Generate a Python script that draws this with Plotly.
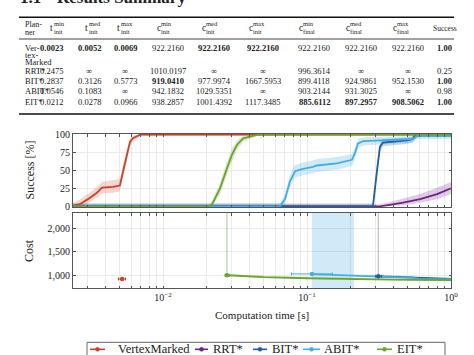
import plotly.graph_objects as go

W, H = 474, 355
ML, MR, MT, MB = 73, 23, 134, 67
PW = W - ML - MR
PH = H - MT - MB
FONT = "Liberation Serif"


def px(x):
    return (x - ML) / PW


def py(y):
    return (H - MB - y) / PH


# ---------------- data ----------------
PLANNERS = ["VertexMarked", "RRT*", "BIT*", "ABIT*", "EIT*"]
COLORS = ["#C8432B", "#6E2484", "#1F5DA6", "#45ADE3", "#6CA42C"]
BAND_COLORS = ["rgba(216,92,70,0.25)", "rgba(140,70,165,0.28)", "rgba(31,93,166,0.25)",
               "rgba(69,173,227,0.25)", "rgba(108,164,44,0.25)"]

# success rate [%] over computation time [s]
VM_T = [0.00237, 0.00265, 0.00301, 0.00348, 0.00377, 0.00408, 0.00450, 0.00502, 0.00527, 0.00562, 0.00590, 0.00619, 0.00692, 1.0]
VM_S = [1, 3, 10, 19, 26, 26, 27, 29, 49, 72, 90, 95, 100, 100]
VM_LO = [0, 0, 4, 12, 18, 18, 19, 21, 40, 63, 84, 90, 98, 100]
VM_HI = [5, 9, 17, 27, 34, 35, 36, 38, 58, 80, 95, 99, 100, 100]

RRT_T = [0.00237, 0.321, 0.377, 0.465, 0.610, 0.800, 1.0]
RRT_S = [0, 0, 2, 5, 10, 17, 25]
RRT_LO = [0, 0, 0, 1, 5, 10, 17]
RRT_HI = [3, 3, 6, 11, 17, 26, 34]

BIT_T = [0.00237, 0.287, 0.306, 0.321, 0.337, 0.494, 0.544, 0.562, 1.0]
BIT_S = [0, 0, 49, 83, 89, 92, 94, 100, 100]
BIT_LO = [0, 0, 40, 76, 84, 87, 89, 98, 100]
BIT_HI = [4, 4, 58, 89, 94, 96, 98, 100, 100]

ABIT_T = [0.00237, 0.0649, 0.0703, 0.0762, 0.0826, 0.0923, 0.110, 0.117, 0.161, 0.190, 0.205, 0.215, 0.226, 0.245, 0.306, 0.544, 0.581, 1.0]
ABIT_S = [0, 0, 10, 35, 49, 52, 55, 57, 60, 64, 65, 74, 88, 91, 92, 94, 98, 98]
ABIT_LO = [0, 0, 4, 26, 40, 43, 46, 48, 51, 55, 56, 65, 81, 85, 86, 89, 94, 94]
ABIT_HI = [4, 4, 18, 44, 58, 61, 64, 66, 69, 72, 73, 82, 94, 96, 97, 98, 100, 100]

EIT_T = [0.00237, 0.0212, 0.0222, 0.0249, 0.0278, 0.0301, 0.0327, 0.0360, 0.0415, 0.0457, 1.0]
EIT_S = [0, 0, 5, 25, 53, 72, 86, 95, 98, 100, 100]
EIT_LO = [0, 0, 1, 17, 44, 63, 79, 90, 95, 99, 100]
EIT_HI = [2, 2, 10, 33, 62, 80, 92, 98, 100, 100, 100]

# initial solution (median time, median cost) and confidence bounds
INIT_T = [0.0052, None, 0.3126, 0.1083, 0.0278]
INIT_T_LO = [0.0049, None, 0.300, 0.078, 0.0270]
INIT_T_HI = [0.0055, None, 0.330, 0.150, 0.0290]
INIT_C = [922.2, None, 978.0, 1029.5, 1001.4]
INIT_C_LO = [915, None, 965, 1015, 990]
INIT_C_HI = [930, None, 2500, 1045, 2500]   # 2500 = unbounded (off chart)

# median cost over time
BIT_CT = [0.3126, 0.40, 0.55, 0.70, 1.0]
BIT_C = [978, 968, 948, 935, 925]
BIT_CLO = [960, 952, 932, 920, 912]
BIT_CHI = [995, 985, 965, 950, 940]

ABIT_CT = [0.1083, 0.150, 0.212, 0.300, 0.450, 0.550, 0.600, 1.0]
ABIT_C = [1025, 1008, 995, 985, 965, 945, 925, 917]
ABIT_CLO = [700, 700, 980, 970, 950, 930, 910, 902]      # 700 = unbounded below (off chart)
ABIT_CHI = [2500, 2500, 1010, 1000, 980, 960, 940, 932]  # 2500 = unbounded (off chart)

EIT_CT = [0.0278, 0.035, 0.050, 0.100, 0.200, 0.500, 1.0]
EIT_C = [1001, 985, 962, 937, 920, 905, 897]
EIT_CLO = [985, 972, 950, 926, 910, 896, 889]
EIT_CHI = [1018, 1000, 975, 948, 930, 914, 905]

SUCCESS = [(VM_T, VM_S, VM_LO, VM_HI), (RRT_T, RRT_S, RRT_LO, RRT_HI), (BIT_T, BIT_S, BIT_LO, BIT_HI),
           (ABIT_T, ABIT_S, ABIT_LO, ABIT_HI), (EIT_T, EIT_S, EIT_LO, EIT_HI)]
COST = [None, None, (BIT_CT, BIT_C, BIT_CLO, BIT_CHI), (ABIT_CT, ABIT_C, ABIT_CLO, ABIT_CHI),
        (EIT_CT, EIT_C, EIT_CLO, EIT_CHI)]

SUCC_TICKS = [0, 25, 50, 75, 100]
COST_TICKS = [1000, 1500, 2000]

# results table
HEAD_BASE = ["t", "t", "t", "c", "c", "c", "c", "c", "c"]
HEAD_SUP = ["min", "med", "max", "min", "med", "max", "min", "med", "max"]
HEAD_SUB = ["init", "init", "init", "init", "init", "init", "final", "final", "final"]
ROW_NAMES = [["Ver-", "tex-", "Marked"], ["RRT*"], ["BIT*"], ["ABIT*"], ["EIT*"]]
ROW_VALUES = [
    ["0.0023", "0.0052", "0.0069", "922.2160", "922.2160", "922.2160", "922.2160", "922.2160", "922.2160", "1.00"],
    ["0.2475", "∞", "∞", "1010.0197", "∞", "∞", "996.3614", "∞", "∞", "0.25"],
    ["0.2837", "0.3126", "0.5773", "919.0410", "977.9974", "1667.5953", "899.4118", "924.9861", "952.1530", "1.00"],
    ["0.0546", "0.1083", "∞", "942.1832", "1029.5351", "∞", "903.2144", "931.3025", "∞", "0.98"],
    ["0.0212", "0.0278", "0.0966", "938.2857", "1001.4392", "1117.3485", "885.6112", "897.2957", "908.5062", "1.00"],
]
ROW_BOLD = [
    [1, 1, 1, 0, 1, 1, 0, 0, 0, 1],
    [0, 0, 0, 0, 0, 0, 0, 0, 0, 0],
    [0, 0, 0, 1, 0, 0, 0, 0, 0, 1],
    [0, 0, 0, 0, 0, 0, 0, 0, 0, 0],
    [0, 0, 0, 0, 0, 0, 1, 1, 1, 1],
]

# ---------------- layout constants ----------------
COL_X = [51, 89, 125, 168, 214, 263, 314, 361, 408, 444]
HEAD_X = [48, 83, 115, 155, 200, 247, 297, 344, 391]
ROW_Y = [48, 71, 81, 91, 102]

fig = go.Figure()

# success panel
for i, (t, s, lo, hi) in enumerate(SUCCESS):
    fig.add_trace(go.Scatter(x=t, y=lo, mode="lines", line=dict(width=0), hoverinfo="skip",
                             xaxis="x", yaxis="y", showlegend=False))
    fig.add_trace(go.Scatter(x=t, y=hi, mode="lines", line=dict(width=0), fill="tonexty",
                             fillcolor=BAND_COLORS[i], hoverinfo="skip", xaxis="x", yaxis="y",
                             showlegend=False))
for i, (t, s, lo, hi) in enumerate(SUCCESS):
    fig.add_trace(go.Scatter(x=t, y=s, mode="lines", line=dict(color=COLORS[i], width=1.8),
                             xaxis="x", yaxis="y", name=PLANNERS[i], showlegend=False))

# cost panel
for i, c in enumerate(COST):
    if c is None:
        continue
    t, m, lo, hi = c
    fig.add_trace(go.Scatter(x=t, y=lo, mode="lines", line=dict(width=0, shape="hv"), hoverinfo="skip",
                             xaxis="x2", yaxis="y2", showlegend=False))
    fig.add_trace(go.Scatter(x=t, y=hi, mode="lines", line=dict(width=0, shape="hv"), fill="tonexty",
                             fillcolor=BAND_COLORS[i], hoverinfo="skip", xaxis="x2", yaxis="y2",
                             showlegend=False))
for i, c in enumerate(COST):
    if c is None:
        continue
    t, m, lo, hi = c
    fig.add_trace(go.Scatter(x=t, y=m, mode="lines", line=dict(color=COLORS[i], width=1.8),
                             xaxis="x2", yaxis="y2", showlegend=False))
ERR_COLORS = ["rgba(200,67,43,0.6)", None, "rgba(150,160,175,0.55)", "rgba(69,173,227,0.5)",
              "rgba(130,175,90,0.45)"]
for i in range(len(PLANNERS)):
    if INIT_T[i] is None:
        continue
    fig.add_trace(go.Scatter(
        x=[INIT_T[i]], y=[INIT_C[i]], mode="markers",
        marker=dict(color=COLORS[i], size=4.5, symbol="circle"),
        error_x=dict(type="data", symmetric=False, array=[INIT_T_HI[i] - INIT_T[i]],
                     arrayminus=[INIT_T[i] - INIT_T_LO[i]], color=COLORS[i], thickness=1, width=1.5),
        error_y=dict(type="data", symmetric=False, array=[INIT_C_HI[i] - INIT_C[i]],
                     arrayminus=[INIT_C[i] - INIT_C_LO[i]], color=ERR_COLORS[i],
                     thickness=1.5, width=0),
        xaxis="x2", yaxis="y2", showlegend=False))

GRID_T = [m * 10.0 ** k for k in (-3, -2, -1) for m in range(1, 10)] + [1.0]
GRID_TXT = []
for k in (-3, -2, -1):
    for m in range(1, 10):
        GRID_TXT.append("10<sup>\u2212%d</sup>" % (-k) if m == 1 else "")
GRID_TXT.append("10<sup>0</sup>")

axis_common = dict(showline=True, linecolor="#555", linewidth=1, mirror="ticks", ticks="inside",
                   ticklen=2.5, tickcolor="#555", showgrid=True, gridcolor="#e6e6e6", gridwidth=0.8,
                   zeroline=False, tickfont=dict(family=FONT, size=10, color="#222"))

fig.update_layout(
    width=W, height=H, autosize=False,
    margin=dict(l=ML, r=MR, t=MT, b=MB, autoexpand=False),
    paper_bgcolor="white", plot_bgcolor="white",
    font=dict(family=FONT, color="#222"),
    showlegend=False,
    xaxis=dict(type="log", range=[-2.625, 0], domain=[0, 1], anchor="y", tickmode="array",
               tickvals=GRID_T, ticktext=GRID_TXT, showticklabels=False, **axis_common),
    yaxis=dict(domain=[py(207), 1], range=[-1, 101], tickmode="array", tickvals=SUCC_TICKS,
               anchor="x", **axis_common),
    xaxis2=dict(type="log", range=[-2.625, 0], domain=[0, 1], anchor="y2", tickmode="array",
                tickvals=GRID_T, ticktext=GRID_TXT, showticklabels=True, **axis_common),
    yaxis2=dict(domain=[0, py(213)], range=[730, 2326], tickmode="array", tickvals=COST_TICKS,
                tickformat=",", anchor="x2", **axis_common),
)

anns = []
shapes = []


def ann(text, x, y, size, xanchor="center", angle=0, color="#222"):
    anns.append(dict(text=text, x=px(x), y=py(y), xref="paper", yref="paper", showarrow=False,
                     xanchor=xanchor, yanchor="middle", textangle=angle,
                     font=dict(family=FONT, size=size, color=color)))


def hline(x0, x1, y, width, color="#111"):
    shapes.append(dict(type="line", xref="paper", yref="paper", x0=px(x0), x1=px(x1), y0=py(y), y1=py(y),
                       line=dict(color=color, width=width)))


# axis titles
ann("Success [%]", 29, 170.5, 12, angle=-90)
ann("Cost", 29, 251, 12, angle=-90)
ann("Computation time [s]", 262, 315, 11)

# section title (cut at top)
ann("<b>1.1</b>", 18, -2.5, 17, xanchor="left")
ann("<b>Results Summary</b>", 55, -2.5, 17, xanchor="left")

# table rules
hline(19, 454, 17.3, 1.4)
hline(19, 454, 39, 0.8)
hline(19, 454, 114, 1.4)

# header
ann("Plan-", 23, 25, 8, xanchor="left")
ann("ner", 23, 33, 8, xanchor="left")
for j in range(len(HEAD_BASE)):
    ann(HEAD_BASE[j], HEAD_X[j], 28, 9.5, xanchor="left")
    ann(HEAD_SUP[j], HEAD_X[j] + 3.5, 23.5, 6.5, xanchor="left")
    ann(HEAD_SUB[j], HEAD_X[j] + 3.5, 31.5, 6.5, xanchor="left")
ann("Success", 445, 28, 7.5)

# rows
for r, names in enumerate(ROW_NAMES):
    for k, nm in enumerate(names):
        ann(nm, 23, ROW_Y[r] + 7.2 * k, 8.5, xanchor="left")
    for j, v in enumerate(ROW_VALUES[r]):
        txt = "<b>%s</b>" % v if ROW_BOLD[r][j] else v
        ann(txt, COL_X[j], ROW_Y[r], 8.5)

# legend (manual, cut at the bottom)
shapes.append(dict(type="rect", xref="paper", yref="paper", x0=px(87), x1=px(445), y0=py(342.3), y1=py(372),
                   line=dict(color="#666", width=1), fillcolor="rgba(0,0,0,0)"))
LEG_LINE_X = [(90, 105), (195, 208), (253, 267), (303, 320), (377, 392)]
LEG_TEXT_X = [116, 211, 270, 322, 395]
LEG_Y = 349.3
for i, nm in enumerate(PLANNERS):
    x0, x1 = LEG_LINE_X[i]
    shapes.append(dict(type="line", xref="paper", yref="paper", x0=px(x0), x1=px(x1), y0=py(LEG_Y), y1=py(LEG_Y),
                       line=dict(color=COLORS[i], width=1.6)))
    shapes.append(dict(type="circle", xref="paper", yref="paper", xsizemode="pixel", ysizemode="pixel",
                       xanchor=px((x0 + x1) / 2), yanchor=py(LEG_Y), x0=-2, x1=2, y0=-2, y1=2,
                       fillcolor=COLORS[i], line=dict(color=COLORS[i], width=0.5)))
    ann(nm, LEG_TEXT_X[i], LEG_Y, 12.5, xanchor="left")

fig.update_layout(annotations=anns, shapes=shapes)
fig.write_html("out.html", config={"displayModeBar": False, "staticPlot": True},
               post_script="document.body.style.margin='0';document.body.style.overflow='hidden';")
